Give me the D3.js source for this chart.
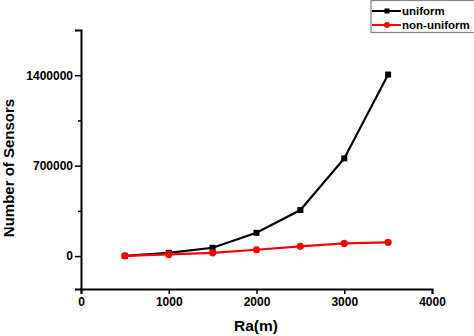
<!DOCTYPE html>
<html><head><meta charset="utf-8">
<script src="https://cdn.jsdelivr.net/npm/d3@7"></script>
<style>body{margin:0;background:#fff}svg{display:block}text{font-family:"Liberation Sans",Arial,sans-serif}</style>
</head><body><svg id="c" width="474" height="336"></svg>
<script>
const raValues = [500, 1000, 1500, 2000, 2500, 3000, 3500];
const uniformValues = [2000, 25000, 64000, 180000, 356000, 756000, 1405000];
const nonUniformValues = [1000, 13000, 25000, 49000, 75000, 98000, 106000];
const xTicks = [0, 1000, 2000, 3000, 4000];
const yTicks = [0, 700000, 1400000];
const yMinorTicks = [350000, 1050000];
const seriesNames = ["uniform", "non-uniform"];
const seriesColors = ["#000000", "#ff0000"];

const svg = d3.select("#c");
const x = d3.scaleLinear().domain([0, 4000]).range([81, 432]);
const y = d3.scaleLinear().domain([-255000, 1750000]).range([289, 30]);

svg.append("g").attr("transform", "translate(0,289)")
  .call(d3.axisBottom(x).tickValues(xTicks).tickSize(5).tickPadding(3).tickFormat(d3.format("d")));
svg.append("g").attr("transform", "translate(81,0)")
  .call(d3.axisLeft(y).tickValues(yTicks).tickSize(6).tickPadding(2).tickFormat(d3.format("d")));
svg.append("g").attr("transform", "translate(81,0)")
  .call(d3.axisLeft(y).tickValues(yMinorTicks).tickSize(3).tickFormat(""))
  .select(".domain").remove();
svg.selectAll(".domain").attr("stroke", "#000").attr("stroke-width", 2);
svg.selectAll(".tick line").attr("stroke", "#000").attr("stroke-width", 1.5);
svg.selectAll(".tick text").attr("font-size", 12).attr("font-weight", "bold").attr("fill", "#000")
  .attr("font-family", "Liberation Sans, Arial, sans-serif");

const line = d3.line().x((d, i) => x(raValues[i])).y(d => y(d));
const data = [uniformValues, nonUniformValues];
data.forEach((vals, k) => {
  svg.append("path").datum(vals).attr("d", line).attr("fill", "none")
    .attr("stroke", seriesColors[k]).attr("stroke-width", 2.2);
  if (k === 0) {
    svg.selectAll(null).data(vals).enter().append("rect")
      .attr("x", (d, i) => x(raValues[i]) - 3).attr("y", d => y(d) - 3)
      .attr("width", 6).attr("height", 6).attr("fill", seriesColors[k]);
  } else {
    svg.selectAll(null).data(vals).enter().append("circle")
      .attr("cx", (d, i) => x(raValues[i])).attr("cy", d => y(d))
      .attr("r", 3.6).attr("fill", seriesColors[k]);
  }
});

svg.append("text").attr("x", 256).attr("y", 331).attr("text-anchor", "middle")
  .attr("font-size", 15.5).attr("font-weight", "bold").text("Ra(m)");
svg.append("text").attr("transform", "translate(14,168) rotate(-90)").attr("text-anchor", "middle")
  .attr("font-size", 15).attr("font-weight", "bold").text("Number of Sensors");

const lg = svg.append("g");
lg.append("rect").attr("x", 371).attr("y", 0.5).attr("width", 110).attr("height", 32)
  .attr("fill", "#fff").attr("stroke", "#888").attr("stroke-width", 1.3);
seriesNames.forEach((n, k) => {
  const yy = 11 + k * 14;
  lg.append("line").attr("x1", 372).attr("x2", 401).attr("y1", yy).attr("y2", yy)
    .attr("stroke", seriesColors[k]).attr("stroke-width", 2);
  if (k === 0) lg.append("rect").attr("x", 384.5).attr("y", yy - 2.5).attr("width", 5).attr("height", 5).attr("fill", seriesColors[k]);
  else lg.append("circle").attr("cx", 387).attr("cy", yy).attr("r", 3).attr("fill", seriesColors[k]);
  lg.append("text").attr("x", 402).attr("y", yy + 4).attr("font-size", 11.5).attr("font-weight", "bold").text(n);
});
</script></body></html>
